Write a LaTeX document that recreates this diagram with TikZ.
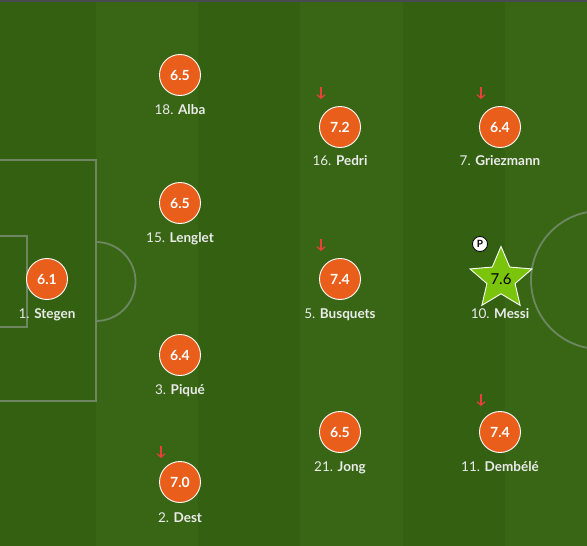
\documentclass[tikz,border=0pt]{standalone}
\usepackage{fontspec}
\setmainfont{Lato}
\usetikzlibrary{shapes.geometric,arrows.meta}
\definecolor{pdark}{RGB}{51,96,17}
\definecolor{plight}{RGB}{56,102,20}
\definecolor{pline}{RGB}{110,135,98}
\definecolor{rorange}{RGB}{233,94,26}
\definecolor{rstar}{RGB}{122,196,12}
\definecolor{rarrow}{RGB}{232,64,58}
\definecolor{topbar}{RGB}{74,74,82}
\tikzset{
  rating/.style={circle,fill=rorange,draw=white,line width=0.9pt,minimum size=41pt,inner sep=0pt,
    text=white,font=\fontsize{14}{15}\selectfont\bfseries},
  starnode/.style={star,star points=5,star point ratio=2.2,fill=rstar,draw=white,line width=0.9pt,
    minimum size=65pt,inner sep=0pt,text=black,font=\fontsize{15}{16}\selectfont},
  pname/.style={text=white!92!black,font=\fontsize{13.5}{15}\selectfont,inner sep=0pt,anchor=base},
  pitchline/.style={draw=pline,line width=1.8pt},
  downarr/.style={draw=rarrow,line width=1.2pt,-{Straight Barb[length=3.5pt,width=8pt]}},
  pbadge/.style={circle,fill=white,draw=black,line width=0.8pt,minimum size=15pt,inner sep=0pt,
    font=\fontsize{10}{11}\selectfont\bfseries}
}
\begin{document}
\begin{tikzpicture}[x=1pt,y=-1pt]
\useasboundingbox (0,0) rectangle (587,546);
% stripes
\fill[pdark] (0,0) rectangle (96,546);
\fill[plight] (96,0) rectangle (198,546);
\fill[pdark] (198,0) rectangle (300,546);
\fill[plight] (300,0) rectangle (403,546);
\fill[pdark] (403,0) rectangle (505,546);
\fill[plight] (505,0) rectangle (587,546);
\fill[topbar] (0,0) rectangle (587,1.5);
% pitch markings
\begin{scope}
\clip (0,0) rectangle (587,546);
\draw[pitchline] (-5,160) -- (96,160) -- (96,401) -- (-5,401);
\draw[pitchline] (-5,236) -- (27,236) -- (27,327) -- (-5,327);
\draw[pitchline] (96,242) arc[start angle=-90,end angle=90,radius=39.5];
\draw[pitchline] (600,280) circle[radius=69];
\end{scope}
% players
\node[rating] (stegen) at (47,279) {6.1};
\node[pname] (stegenl) at (47,318) {1. \textbf{Stegen}};
\node[rating] (alba) at (180,75) {6.5};
\node[pname] (albal) at (180,114) {18. \textbf{Alba}};
\node[rating] (lenglet) at (180,203) {6.5};
\node[pname] (lengletl) at (180,242) {15. \textbf{Lenglet}};
\node[rating] (pique) at (180,355) {6.4};
\node[pname] (piquel) at (180,394) {3. \textbf{Piqué}};
\node[rating] (dest) at (180,482) {7.0};
\node[pname] (destl) at (180,522) {2. \textbf{Dest}};
\node[rating] (pedri) at (340,127) {7.2};
\node[pname] (pedril) at (340,165) {16. \textbf{Pedri}};
\node[rating] (busquets) at (340,279) {7.4};
\node[pname] (busquetsl) at (340,318) {5. \textbf{Busquets}};
\node[rating] (jong) at (340,432) {6.5};
\node[pname] (jongl) at (340,471) {21. \textbf{Jong}};
\node[rating] (griezmann) at (500,127) {6.4};
\node[pname] (griezmannl) at (500,165) {7. \textbf{Griezmann}};
\node[starnode] (messi) at (501,279) {7.6};
\node[pname] (messil) at (500,318) {10. \textbf{Messi}};
\node[pbadge] (pen) at (480,244) {P};
\node[rating] (dembele) at (500,432) {7.4};
\node[pname] (dembelel) at (500,471) {11. \textbf{Dembélé}};
% down arrows
\coordinate (a1) at (321,87); \coordinate (a1e) at (321,99);
\coordinate (a2) at (481,87); \coordinate (a2e) at (481,99);
\coordinate (a3) at (321,239); \coordinate (a3e) at (321,251);
\coordinate (a4) at (481,394); \coordinate (a4e) at (481,406);
\coordinate (a5) at (161,446); \coordinate (a5e) at (161,458);
\draw[downarr] (a1) -- (a1e);
\draw[downarr] (a2) -- (a2e);
\draw[downarr] (a3) -- (a3e);
\draw[downarr] (a4) -- (a4e);
\draw[downarr] (a5) -- (a5e);
\end{tikzpicture}
\end{document}
